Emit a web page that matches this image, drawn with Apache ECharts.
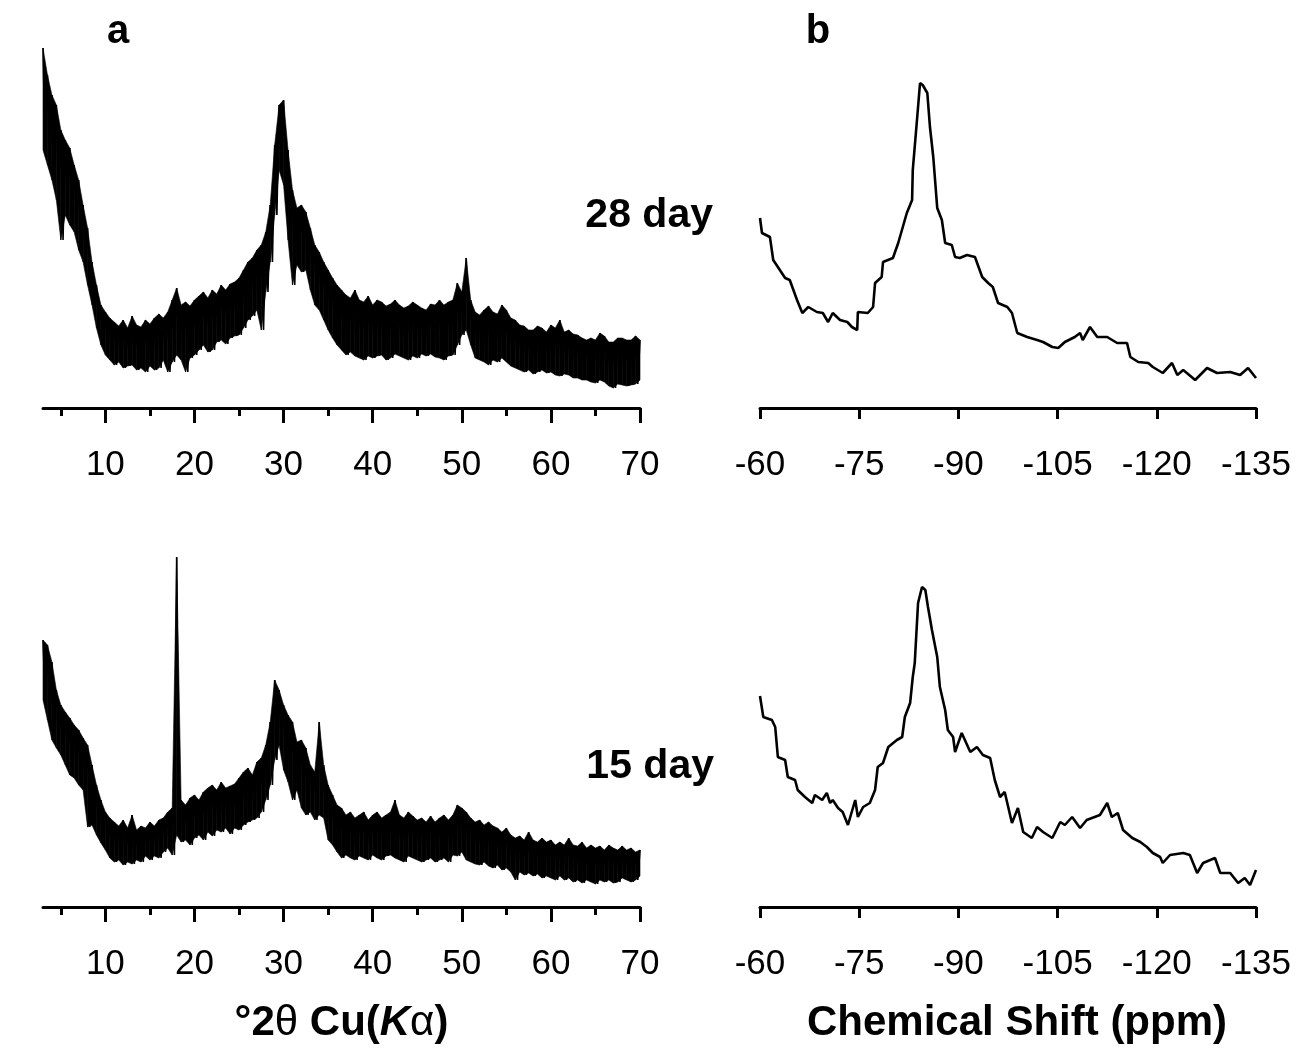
<!DOCTYPE html>
<html>
<head>
<meta charset="utf-8">
<script src="https://cdn.jsdelivr.net/npm/echarts@6/dist/echarts.min.js"></script>
<style>
html,body{margin:0;padding:0;background:#fff;}
#chart{width:1310px;height:1059px;}
</style>
</head>
<body>
<div id="chart"></div>
<script>
// ---------- DATA ----------
// XRD patterns: noisy band read from the picture as upper / lower envelope, every 0.5 deg 2theta from 3 to 70
const xrdStart = 3;
const xrdStep = 0.5;
const xrdLabelTicks = [10, 20, 30, 40, 50, 60, 70];
const xrdMinorTicks = [5, 15, 25, 35, 45, 55, 65];

const xrd28Upper = [
  360,333,313,303,278,268,260,243,228,203,
  180,146,123,103,96,90,86,82,88,80,
  92,83,81,88,84,90,94,90,96,108,
  120,103,106,102,108,112,116,110,118,114,
  123,118,124,126,130,138,146,150,158,163,
  176,203,263,303,308,258,218,200,203,196,
  180,163,156,146,138,130,123,118,113,110,
  118,108,106,112,103,108,106,102,104,108,
  103,100,102,106,103,100,98,104,103,108,
  103,106,108,125,116,150,108,96,93,98,
  102,96,94,103,98,90,88,83,82,78,
  78,82,80,76,83,80,88,76,78,74,
  73,70,68,70,68,75,72,66,66,70,
  70,68,68,72,68
];
const xrd28Lower = [
  258,243,228,208,168,193,183,176,158,146,
  123,103,80,63,53,48,43,46,40,42,
  43,38,40,36,42,38,40,48,36,46,
  53,48,36,50,53,58,63,56,58,66,
  68,64,70,72,73,80,88,92,98,78,
  116,146,193,238,223,168,123,143,136,138,
  118,103,98,88,78,70,63,58,53,56,
  52,50,48,52,50,52,53,48,50,54,
  52,50,48,52,50,54,52,54,51,50,
  48,52,53,63,73,78,63,50,48,46,
  43,48,46,50,46,42,40,38,36,38,
  34,36,38,35,36,33,32,34,33,30,
  30,28,28,26,25,28,26,22,20,24,
  23,22,23,24,28
];
const xrd15Upper = [
  267,262,245,217,202,195,189,182,177,169,
  162,142,122,107,95,89,85,81,87,79,
  92,77,81,79,85,81,87,89,95,99,
  350,107,102,109,112,107,115,119,122,117,
  125,119,121,123,129,135,139,132,145,149,
  162,185,227,217,202,192,185,165,167,159,
  142,135,185,142,122,112,102,99,92,95,
  89,92,95,87,92,95,89,92,95,107,
  92,89,95,91,87,89,85,91,85,89,
  92,87,92,102,99,95,89,85,87,82,
  85,81,79,75,79,72,69,71,67,75,
  67,65,69,65,67,62,65,62,69,62,
  61,65,59,62,59,61,57,62,59,57,
  61,57,59,55,57
];
const xrd15Lower = [
  207,187,167,159,152,142,132,129,122,117,
  80,82,72,64,57,49,45,47,42,45,
  43,47,45,51,47,51,49,55,59,52,
  72,65,67,62,69,72,67,75,71,77,
  75,79,73,79,77,82,85,87,89,95,
  107,122,147,162,137,125,107,117,99,92,
  95,87,92,89,67,62,55,49,52,49,
  47,51,49,47,52,49,47,51,52,49,
  47,45,51,49,47,45,47,49,45,47,
  49,45,52,51,55,47,45,43,42,45,
  41,39,42,37,39,35,27,35,32,34,
  31,33,29,31,29,27,31,27,29,25,
  27,24,27,25,23,27,25,27,24,25,
  29,27,25,27,31
];

// 29Si NMR spectra (chemical shift in ppm, signal in a.u.)
const nmr28Shift = [-60.0,-60.3,-61.5,-62.0,-63.0,-63.8,-64.5,-65.6,-66.4,-67.3,-68.6,-69.5,-70.3,-71.0,-72.1,-73.2,-73.9,-74.7,-74.8,-76.3,-77.1,-77.4,-78.4,-78.6,-80.1,-80.9,-82.2,-83.0,-83.1,-83.7,-84.2,-84.6,-85.3,-85.7,-86.2,-86.8,-87.5,-88.0,-89.0,-89.5,-90.2,-91.3,-92.5,-93.6,-94.5,-95.2,-96.0,-97.4,-98.1,-98.9,-100.4,-101.9,-102.8,-104.2,-105.1,-106.1,-107.6,-108.4,-108.8,-109.9,-111.0,-112.5,-114.0,-115.5,-116.0,-117.2,-118.7,-119.4,-120.9,-122.3,-123.1,-124.0,-125.8,-127.6,-129.1,-131.1,-132.6,-133.8,-135.0];
const nmr28Signal = [190,175,171,148,138,130,128,108,95,101,96,95,86,95,88,86,81,78,96,95,101,125,131,146,150,165,195,208,238,285,325,323,315,281,251,200,188,165,163,151,150,153,151,131,125,121,105,101,95,75,71,68,66,61,60,66,71,75,68,81,71,71,65,65,51,46,45,41,35,45,33,38,28,40,35,36,33,40,30];

const nmr15Shift = [-60.0,-60.5,-61.8,-62.3,-62.7,-63.8,-64.2,-65.3,-65.7,-66.8,-67.9,-68.3,-69.4,-70.1,-70.6,-71.0,-71.8,-72.5,-73.3,-74.4,-74.8,-75.6,-76.6,-77.4,-77.8,-78.6,-79.4,-80.7,-81.5,-81.9,-82.7,-83.1,-83.4,-83.9,-84.5,-85.0,-85.4,-86.0,-86.8,-87.2,-88.0,-88.4,-89.2,-89.5,-90.5,-91.8,-92.8,-93.7,-94.8,-95.5,-96.3,-97.0,-98.1,-99.0,-99.8,-101.1,-101.9,-102.8,-104.2,-105.4,-106.1,-107.2,-108.4,-109.4,-111.4,-112.5,-113.2,-114.1,-114.9,-116.3,-117.5,-118.5,-119.4,-120.5,-120.9,-122.0,-124.0,-125.0,-126.1,-127.0,-128.8,-129.6,-131.1,-132.3,-133.3,-134.1,-135.0];
const nmr15Signal = [211,190,187,180,150,147,130,127,117,110,104,112,107,114,104,107,99,95,82,107,90,100,104,117,140,144,160,167,170,190,204,230,244,304,320,317,300,277,250,220,197,177,170,155,174,155,160,152,149,127,110,115,84,99,75,69,80,75,69,85,82,90,79,87,92,104,90,94,77,69,65,60,54,50,44,52,54,52,34,44,49,34,34,24,29,22,37];

const nmrMin = -135, nmrMax = -60, nmrInterval = 15;

// ---------- BUILD ----------
const FONT = '"Liberation Sans", Arial, Helvetica, sans-serif';

function xrdZigzag(upper, lower) {
  const out = [];
  for (let i = 0; i < upper.length; i++) {
    const x = xrdStart + i * xrdStep;
    out.push([x, upper[i]]);
    if (i < upper.length - 1) out.push([x + xrdStep / 2, lower[i]]);
  }
  return out;
}
// each item: one strip of the noise band between two neighbouring readings
function xrdBandItems(upper, lower) {
  const out = [];
  for (let i = 0; i < upper.length - 1; i++) {
    const x0 = xrdStart + i * xrdStep, x1 = xrdStart + (i + 1) * xrdStep;
    out.push([x0, upper[i], lower[i], x1, upper[i + 1], lower[i + 1]]);
  }
  return out;
}
function renderBand(params, api) {
  const a = api.coord([api.value(0), api.value(1)]);
  const b = api.coord([api.value(3), api.value(4)]);
  const c = api.coord([api.value(3), api.value(5)]);
  const d = api.coord([api.value(0), api.value(2)]);
  return { type: 'polygon', shape: { points: [a, b, c, d] },
           style: { fill: '#000', stroke: '#000', lineWidth: 0.6 } };
}
function zip(xs, ys) { return xs.map((x, i) => [x, ys[i]]); }

const axisLineStyle = { color: '#000', width: 3 };
const labelStyle = { color: '#000', fontSize: 35, fontFamily: FONT, margin: 40 };

function xrdMajorAxis(grid, withName) {
  const ax = {
    type: 'value', gridIndex: grid, position: 'bottom', min: 3, max: 70,
    axisLine: { show: true, onZero: false, lineStyle: axisLineStyle },
    axisTick: { show: true, customValues: xrdLabelTicks, length: 15, lineStyle: { color: '#000', width: 3 } },
    axisLabel: Object.assign({ customValues: xrdLabelTicks }, labelStyle),
    splitLine: { show: false }
  };
  if (withName) {
    ax.name = '°2{t|θ} Cu({k|K}{t|α})';
    ax.nameLocation = 'middle';
    ax.nameGap = 95;
    ax.nameTextStyle = {
      color: '#000', fontSize: 42, fontWeight: 'bold', fontFamily: FONT,
      rich: {
        t: { color: '#000', fontSize: 42, fontWeight: 'normal', fontFamily: FONT },
        k: { color: '#000', fontSize: 42, fontWeight: 'bold', fontStyle: 'italic', fontFamily: FONT }
      }
    };
  }
  return ax;
}
function xrdMinorAxis(grid) {
  return {
    type: 'value', gridIndex: grid, position: 'bottom', min: 3, max: 70,
    axisLine: { show: false },
    axisTick: { show: true, customValues: xrdMinorTicks, length: 8, lineStyle: { color: '#000', width: 3 } },
    axisLabel: { show: false },
    splitLine: { show: false }
  };
}
function nmrAxis(grid, withName) {
  const ax = {
    type: 'value', gridIndex: grid, position: 'bottom', inverse: true,
    min: nmrMin, max: nmrMax, interval: nmrInterval,
    axisLine: { show: true, onZero: false, lineStyle: axisLineStyle },
    axisTick: { show: true, length: 11, lineStyle: { color: '#000', width: 3 } },
    axisLabel: Object.assign({}, labelStyle),
    splitLine: { show: false }
  };
  if (withName) {
    ax.name = 'Chemical Shift (ppm)';
    ax.nameLocation = 'middle';
    ax.nameGap = 95;
    ax.nameTextStyle = { color: '#000', fontSize: 42, fontWeight: 'bold', fontFamily: FONT, padding: [0, 0, 0, 18] };
  }
  return ax;
}
function hiddenY(grid) {
  return { type: 'value', gridIndex: grid, min: 0, max: 370, show: false };
}
function xrdSeries(name, xIdx, yIdx, upper, lower) {
  return [
    { name: name + ' band', type: 'custom', coordinateSystem: 'cartesian2d', xAxisIndex: xIdx, yAxisIndex: yIdx,
      data: xrdBandItems(upper, lower), renderItem: renderBand,
      encode: { x: [0, 3], y: [1, 2, 4, 5] }, silent: true, z: 2 },
    { name: name, type: 'line', xAxisIndex: xIdx, yAxisIndex: yIdx, data: xrdZigzag(upper, lower),
      symbol: 'none', lineStyle: { color: '#000', width: 1.6 }, silent: true, z: 3 }
  ];
}

const option = {
  backgroundColor: '#fff',
  animation: false,
  grid: [
    { left: 43, top: 38, width: 597, height: 370 },
    { left: 43, top: 537, width: 597, height: 370 },
    { left: 760, top: 38, width: 496, height: 370 },
    { left: 760, top: 537, width: 496, height: 370 }
  ],
  xAxis: [
    xrdMajorAxis(0, false), xrdMinorAxis(0),
    xrdMajorAxis(1, true), xrdMinorAxis(1),
    nmrAxis(2, false), nmrAxis(3, true)
  ],
  yAxis: [hiddenY(0), hiddenY(1), hiddenY(2), hiddenY(3)],
  series: [].concat(
    xrdSeries('XRD 28 day', 0, 0, xrd28Upper, xrd28Lower),
    xrdSeries('XRD 15 day', 2, 1, xrd15Upper, xrd15Lower),
    [
      { name: 'NMR 28 day', type: 'line', xAxisIndex: 4, yAxisIndex: 2, data: zip(nmr28Shift, nmr28Signal),
        symbol: 'none', lineStyle: { color: '#000', width: 2.6 }, silent: true },
      { name: 'NMR 15 day', type: 'line', xAxisIndex: 5, yAxisIndex: 3, data: zip(nmr15Shift, nmr15Signal),
        symbol: 'none', lineStyle: { color: '#000', width: 2.6 }, silent: true }
    ]
  ),
  graphic: [
    { type: 'text', x: 118, y: 32, style: { text: 'a', fill: '#000', font: 'bold 40px ' + FONT, align: 'center', verticalAlign: 'middle' } },
    { type: 'text', x: 818, y: 32, style: { text: 'b', fill: '#000', font: 'bold 40px ' + FONT, align: 'center', verticalAlign: 'middle' } },
    { type: 'text', x: 713, y: 216, style: { text: '28 day', fill: '#000', font: 'bold 41px ' + FONT, align: 'right', verticalAlign: 'middle' } },
    { type: 'text', x: 714, y: 767, style: { text: '15 day', fill: '#000', font: 'bold 41px ' + FONT, align: 'right', verticalAlign: 'middle' } }
  ]
};

const chart = echarts.init(document.getElementById('chart'), null, { renderer: 'canvas', width: 1310, height: 1059 });
chart.setOption(option);
</script>
</body>
</html>
